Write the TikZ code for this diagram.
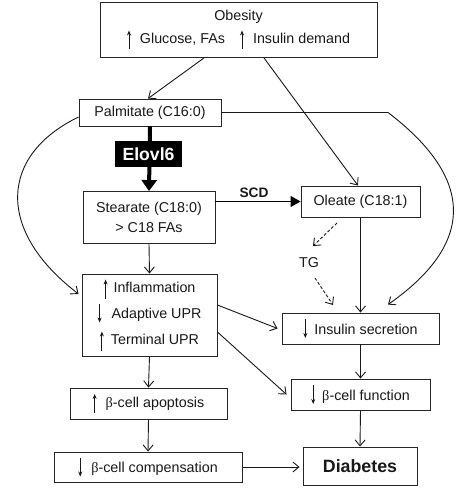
\documentclass[tikz,border=0pt]{standalone}
\usepackage{fontspec}
\setmainfont{Liberation Sans}
\newfontfamily\grkfont{Liberation Serif}
\usetikzlibrary{arrows.meta,calc}
\newcommand\uarr{\tikz[baseline=0pt]\draw[line width=0.8pt,-{Stealth[length=5pt,width=4pt]}](0,-6pt)--(0,13pt);}
\newcommand\darr{\tikz[baseline=0pt]\draw[line width=0.8pt,-{Stealth[length=5pt,width=4pt]}](0,15pt)--(0,-4pt);}
\newcommand\bet{{\grkfont β}}
\begin{document}
\begin{tikzpicture}[x=1pt,y=-1pt,
  box/.style={draw=black!85,line width=0.9pt,inner sep=0pt,align=center,text=black!90,font=\fontsize{14.3}{17}\selectfont},
  arr/.style={draw=black!90,line width=0.9pt,-{Straight Barb[length=6pt,width=10pt]}},
  dasharr/.style={arr,dash pattern=on 3pt off 2pt},
  thickarr/.style={draw=black,line width=4pt,-{Triangle[length=11pt,width=15pt]}},
  scdarr/.style={draw=black,line width=1.2pt,-{Triangle[length=10pt,width=11pt]}},
  lbl/.style={inner sep=0pt,text=black!90,font=\fontsize{14.3}{17}\selectfont},
]
\fill[white] (0,0) rectangle (474,503);
\useasboundingbox (0,0) rectangle (474,503);

\node[box,minimum width=277pt,minimum height=55pt,font=\fontsize{14.3}{23}\selectfont] (obes) at (238.5,30)
  {Obesity\\\uarr\hspace{9pt}Glucose, FAs\hspace{15pt}\uarr\hspace{9pt}Insulin demand};
\node[box,minimum width=142pt,minimum height=27pt] (palm) at (150,112.5) {Palmitate (C16:0)};
\node[box,minimum width=132pt,minimum height=52pt,font=\fontsize{14.3}{20}\selectfont] (stea) at (149,217.5)
  {Stearate (C18:0)\\> C18 FAs};
\node[box,minimum width=119pt,minimum height=31pt] (ole) at (360.5,201.5) {Oleate (C18:1)};
\node[box,minimum width=135pt,minimum height=82pt,font=\fontsize{14.3}{26}\selectfont] (infl) at (149.5,315)
  {\uarr\hspace{6pt}Inflammation\\\darr\hspace{10pt}Adaptive UPR\\\uarr\hspace{7pt}Terminal UPR};
\node[box,minimum width=157pt,minimum height=31pt] (insul) at (360.5,328.5) {\darr\hspace{7pt}Insulin secretion};
\node[box,minimum width=139pt,minimum height=31pt] (func) at (360.5,394.5) {\darr\hspace{7pt}\bet-cell function};
\node[box,minimum width=157pt,minimum height=31pt] (apop) at (148.5,403.5) {\uarr\hspace{9pt}\bet-cell apoptosis};
\node[box,minimum width=188pt,minimum height=30pt] (comp) at (148,467) {\darr\hspace{9pt}\bet-cell compensation};
\node[box,minimum width=114pt,minimum height=38pt,font=\fontsize{17.8}{20}\selectfont\bfseries] (diab) at (360,466) {Diabetes};
\node[lbl] (tg) at (309,263) {TG};
\node[lbl,font=\fontsize{13.7}{16}\selectfont\bfseries] (scd) at (254,192.5) {SCD};

% thick elongation arrow with Elovl6 box on top
\draw[thickarr] (palm.south) -- (stea.north);
\node[fill=black,text=white,inner sep=0pt,minimum width=67pt,minimum height=26pt,font=\fontsize{17.6}{20}\selectfont\bfseries] (elo) at (148.5,154) {Elovl6};

\draw[scdarr] (stea.east |- ole.west) -- (ole.west);

\draw[arr] ([xshift=-34.5pt]obes.south) -- ([xshift=-2pt]palm.north);
\draw[arr] ([xshift=25.5pt]obes.south) -- ([xshift=-2.5pt]ole.north);

\draw[arr] (stea.south) -- (infl.north);
\draw[arr] (infl.south) -- (apop.north);
\draw[arr] (apop.south) -- (comp.north);
\draw[arr] (comp.east) -- ([xshift=-3pt]diab.west |- comp.east);
\draw[arr] (ole.south) -- (insul.north);
\draw[arr] (insul.south) -- (func.north);
\draw[arr] (func.south) -- (diab.north);
\draw[arr] ([yshift=10pt]infl.east) -- ([xshift=-4pt]insul.west);
\draw[arr] ([yshift=-17pt]infl.east) -- ([xshift=-4pt]func.west);

\coordinate (d1a) at (337,223);
\coordinate (d1b) at (313,246);
\coordinate (d2a) at (315,278);
\coordinate (d2b) at (333,305);
\draw[dasharr] (d1a) -- (d1b);
\draw[dasharr] (d2a) -- (d2b);

\draw[arr] ([yshift=-4.5pt]palm.west) .. controls (0,155) and (-5,230) .. ([xshift=-3pt,yshift=21pt]infl.west);
\coordinate (rc) at (388,112.5);
\draw[arr] (palm.east) -- (rc) .. controls (470,175) and (480,240) .. ([xshift=27.5pt,yshift=8pt]insul.north);
\end{tikzpicture}
\end{document}
